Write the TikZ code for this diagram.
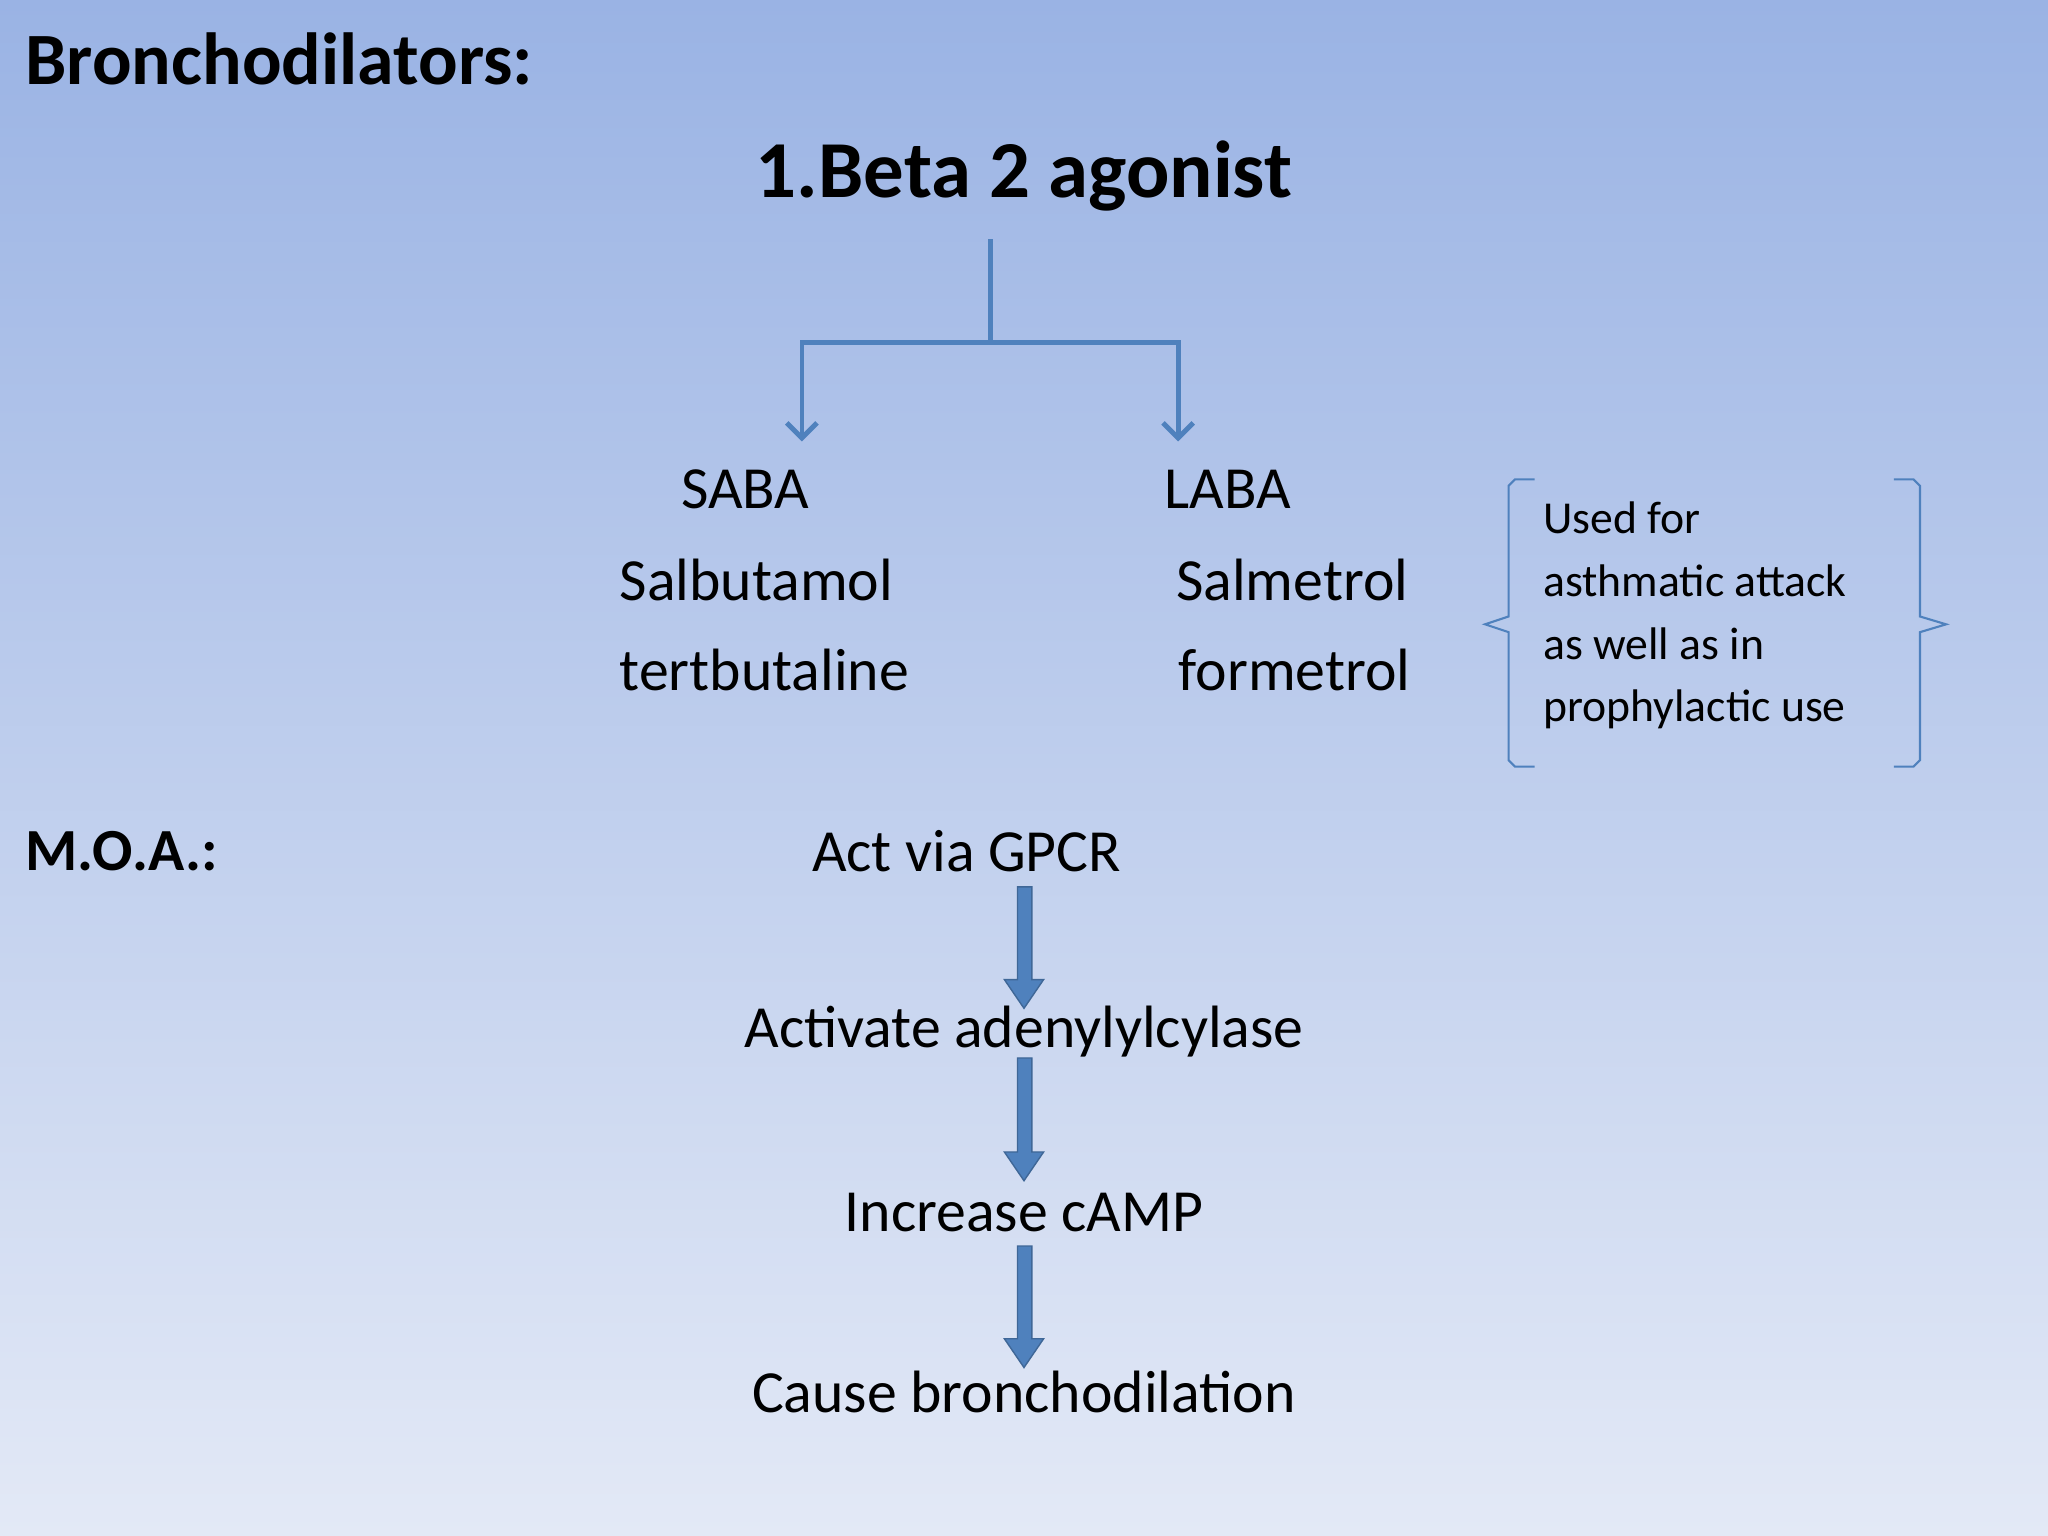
\documentclass[tikz,border=0pt]{standalone}
\usepackage{fontspec}
\setmainfont{Carlito}
\usetikzlibrary{arrows.meta,positioning}
\definecolor{arrowblue}{HTML}{4F81BD}
\definecolor{bgtop}{HTML}{9AB3E4}
\definecolor{bgbottom}{HTML}{E3E9F6}
\begin{document}
\begin{tikzpicture}[x=0.013061cm,y=-0.013061cm,
	 	title/.style = {anchor=west, font=\fontsize{21}{25}\selectfont\bfseries},
	 	head/.style  = {font=\fontsize{23}{27}\selectfont\bfseries},
	 	drug/.style  = {anchor=west, font=\fontsize{17}{20}\selectfont},
	 	moastep/.style  = {font=\fontsize{17}{20}\selectfont},
	 	note/.style  = {anchor=north west, align=left, font=\fontsize{13}{17.8}\selectfont},
	 	tree/.style  = {draw=arrowblue, line width=1.4pt},
	 	flow/.style  = {draw=arrowblue!80!black, fill=arrowblue, line width=0.4pt},
	 	brace/.style = {draw=arrowblue, line width=0.6pt},
		>=Straight Barb]
		
		\shade[top color=bgtop, bottom color=bgbottom] (0,0) rectangle (1568,1176);
		
		\node[title] (bron) at (10,45) {Bronchodilators:};
		\node[head] (beta) at (784,135) {1.Beta 2 agonist};
		
		\node[drug] (saba) at (512,375) {SABA};
		\node[drug] (salb) at (465,444) {Salbutamol};
		\node[drug] (terb) at (465,513) {tertbutaline};
		\node[drug] (laba) at (882,375) {LABA};
		\node[drug] (salm) at (891,444) {Salmetrol};
		\node[drug] (form) at (893,513) {formetrol};
		
		\coordinate (top) at (758,183);
		\coordinate (mid) at (758,262);
		\coordinate (left) at (614,262);
		\coordinate (right) at (902,262);
		\draw[tree] (top) -- (mid);
		\draw[tree, ->] (mid) -- (left) -- (614,338);
		\draw[tree, ->] (mid) -- (right) -- (902,338);
		
		\node[note] (use) at (1172,375) {Used for\\asthmatic attack\\as well as in\\prophylactic use};
		\draw[brace] (1175,367) -- (1160,367) -- (1155,372) -- (1155,472) -- (1137,478) -- (1155,484) -- (1155,582) -- (1160,587) -- (1175,587);
		\draw[brace] (1450,367) -- (1465,367) -- (1470,372) -- (1470,472) -- (1490,478) -- (1470,484) -- (1470,582) -- (1465,587) -- (1450,587);
		
		\node[title, font=\fontsize{17}{20}\selectfont\bfseries] (moa) at (10,652) {M.O.A.:};
		\node[moastep] (gpcr) at (740,652) {Act via GPCR};
		\node[moastep] (aden) at (784,790) {Activate adenylylcylase};
		\node[moastep] (camp) at (784,928) {Increase cAMP};
		\node[moastep] (bron2) at (784,1066) {Cause bronchodilation};
		
		\foreach \a/\b in {679/772, 810/904, 954/1047}
		\draw[flow] (779,\a) -- (790,\a) -- (790,\b-22) -- (799,\b-22) -- (784,\b) -- (769,\b-22) -- (779,\b-22) -- cycle;
		
	\end{tikzpicture}
\end{document}
